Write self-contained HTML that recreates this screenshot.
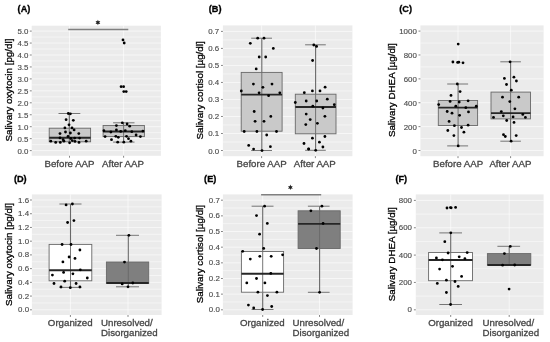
<!DOCTYPE html>
<html><head><meta charset="utf-8"><style>
html,body{margin:0;padding:0;background:#fff;}
svg{display:block;font-family:"Liberation Sans", sans-serif;will-change:transform;filter:blur(0.35px);}
</style></head><body>
<svg width="550" height="342" viewBox="0 0 550 342">
<rect width="550" height="342" fill="#fff"/>
<rect x="31.7" y="25.7" width="129.2" height="130.1" fill="#EBEBEB"/>
<line x1="31.7" x2="160.9" y1="144.62" y2="144.62" stroke="#fff" stroke-opacity="0.5" stroke-width="1"/>
<line x1="31.7" x2="160.9" y1="132.67" y2="132.67" stroke="#fff" stroke-opacity="0.5" stroke-width="1"/>
<line x1="31.7" x2="160.9" y1="120.72" y2="120.72" stroke="#fff" stroke-opacity="0.5" stroke-width="1"/>
<line x1="31.7" x2="160.9" y1="108.77" y2="108.77" stroke="#fff" stroke-opacity="0.5" stroke-width="1"/>
<line x1="31.7" x2="160.9" y1="96.82" y2="96.82" stroke="#fff" stroke-opacity="0.5" stroke-width="1"/>
<line x1="31.7" x2="160.9" y1="84.88" y2="84.88" stroke="#fff" stroke-opacity="0.5" stroke-width="1"/>
<line x1="31.7" x2="160.9" y1="72.92" y2="72.92" stroke="#fff" stroke-opacity="0.5" stroke-width="1"/>
<line x1="31.7" x2="160.9" y1="60.97" y2="60.97" stroke="#fff" stroke-opacity="0.5" stroke-width="1"/>
<line x1="31.7" x2="160.9" y1="49.02" y2="49.02" stroke="#fff" stroke-opacity="0.5" stroke-width="1"/>
<line x1="31.7" x2="160.9" y1="37.07" y2="37.07" stroke="#fff" stroke-opacity="0.5" stroke-width="1"/>
<line x1="31.7" x2="160.9" y1="150.6" y2="150.6" stroke="#fff" stroke-opacity="0.6" stroke-width="1"/>
<line x1="29.8" x2="31.7" y1="150.6" y2="150.6" stroke="#333" stroke-width="0.6"/>
<text x="28.4" y="153.6" font-size="7.9" fill="#4D4D4D" stroke="#4D4D4D" stroke-width="0.15" text-anchor="end">0.0</text>
<line x1="31.7" x2="160.9" y1="138.65" y2="138.65" stroke="#fff" stroke-opacity="0.6" stroke-width="1"/>
<line x1="29.8" x2="31.7" y1="138.65" y2="138.65" stroke="#333" stroke-width="0.6"/>
<text x="28.4" y="141.65" font-size="7.9" fill="#4D4D4D" stroke="#4D4D4D" stroke-width="0.15" text-anchor="end">0.5</text>
<line x1="31.7" x2="160.9" y1="126.7" y2="126.7" stroke="#fff" stroke-opacity="0.6" stroke-width="1"/>
<line x1="29.8" x2="31.7" y1="126.7" y2="126.7" stroke="#333" stroke-width="0.6"/>
<text x="28.4" y="129.7" font-size="7.9" fill="#4D4D4D" stroke="#4D4D4D" stroke-width="0.15" text-anchor="end">1.0</text>
<line x1="31.7" x2="160.9" y1="114.75" y2="114.75" stroke="#fff" stroke-opacity="0.6" stroke-width="1"/>
<line x1="29.8" x2="31.7" y1="114.75" y2="114.75" stroke="#333" stroke-width="0.6"/>
<text x="28.4" y="117.75" font-size="7.9" fill="#4D4D4D" stroke="#4D4D4D" stroke-width="0.15" text-anchor="end">1.5</text>
<line x1="31.7" x2="160.9" y1="102.8" y2="102.8" stroke="#fff" stroke-opacity="0.6" stroke-width="1"/>
<line x1="29.8" x2="31.7" y1="102.8" y2="102.8" stroke="#333" stroke-width="0.6"/>
<text x="28.4" y="105.8" font-size="7.9" fill="#4D4D4D" stroke="#4D4D4D" stroke-width="0.15" text-anchor="end">2.0</text>
<line x1="31.7" x2="160.9" y1="90.85" y2="90.85" stroke="#fff" stroke-opacity="0.6" stroke-width="1"/>
<line x1="29.8" x2="31.7" y1="90.85" y2="90.85" stroke="#333" stroke-width="0.6"/>
<text x="28.4" y="93.85" font-size="7.9" fill="#4D4D4D" stroke="#4D4D4D" stroke-width="0.15" text-anchor="end">2.5</text>
<line x1="31.7" x2="160.9" y1="78.9" y2="78.9" stroke="#fff" stroke-opacity="0.6" stroke-width="1"/>
<line x1="29.8" x2="31.7" y1="78.9" y2="78.9" stroke="#333" stroke-width="0.6"/>
<text x="28.4" y="81.9" font-size="7.9" fill="#4D4D4D" stroke="#4D4D4D" stroke-width="0.15" text-anchor="end">3.0</text>
<line x1="31.7" x2="160.9" y1="66.95" y2="66.95" stroke="#fff" stroke-opacity="0.6" stroke-width="1"/>
<line x1="29.8" x2="31.7" y1="66.95" y2="66.95" stroke="#333" stroke-width="0.6"/>
<text x="28.4" y="69.95" font-size="7.9" fill="#4D4D4D" stroke="#4D4D4D" stroke-width="0.15" text-anchor="end">3.5</text>
<line x1="31.7" x2="160.9" y1="55" y2="55" stroke="#fff" stroke-opacity="0.6" stroke-width="1"/>
<line x1="29.8" x2="31.7" y1="55" y2="55" stroke="#333" stroke-width="0.6"/>
<text x="28.4" y="58" font-size="7.9" fill="#4D4D4D" stroke="#4D4D4D" stroke-width="0.15" text-anchor="end">4.0</text>
<line x1="31.7" x2="160.9" y1="43.05" y2="43.05" stroke="#fff" stroke-opacity="0.6" stroke-width="1"/>
<line x1="29.8" x2="31.7" y1="43.05" y2="43.05" stroke="#333" stroke-width="0.6"/>
<text x="28.4" y="46.05" font-size="7.9" fill="#4D4D4D" stroke="#4D4D4D" stroke-width="0.15" text-anchor="end">4.5</text>
<line x1="31.7" x2="160.9" y1="31.1" y2="31.1" stroke="#fff" stroke-opacity="0.6" stroke-width="1"/>
<line x1="29.8" x2="31.7" y1="31.1" y2="31.1" stroke="#333" stroke-width="0.6"/>
<text x="28.4" y="34.1" font-size="7.9" fill="#4D4D4D" stroke="#4D4D4D" stroke-width="0.15" text-anchor="end">5.0</text>
<line x1="69.5" x2="69.5" y1="25.7" y2="155.8" stroke="#fff" stroke-opacity="0.6" stroke-width="1"/>
<line x1="69.5" x2="69.5" y1="155.8" y2="157.7" stroke="#333" stroke-width="0.6"/>
<line x1="123.6" x2="123.6" y1="25.7" y2="155.8" stroke="#fff" stroke-opacity="0.6" stroke-width="1"/>
<line x1="123.6" x2="123.6" y1="155.8" y2="157.7" stroke="#333" stroke-width="0.6"/>
<text transform="translate(11.9,90.1) rotate(-90)" font-size="9.8" fill="#000" stroke="#000" stroke-width="0.3" text-anchor="middle">Salivary oxytocin [pg/dl]</text>
<text x="17.6" y="12.2" font-size="9.2" font-weight="bold" fill="#000" stroke="#000" stroke-width="0.3">(A)</text>
<text x="69.5" y="167" font-size="9.7" fill="#454545" stroke="#454545" stroke-width="0.3" text-anchor="middle">Before AAP</text>
<text x="123" y="167" font-size="9.7" fill="#454545" stroke="#454545" stroke-width="0.3" text-anchor="middle">After AAP</text>
<rect x="222.9" y="25.4" width="129.5" height="130.8" fill="#EBEBEB"/>
<line x1="222.9" x2="352.4" y1="141.99" y2="141.99" stroke="#fff" stroke-opacity="0.5" stroke-width="1"/>
<line x1="222.9" x2="352.4" y1="124.98" y2="124.98" stroke="#fff" stroke-opacity="0.5" stroke-width="1"/>
<line x1="222.9" x2="352.4" y1="107.96" y2="107.96" stroke="#fff" stroke-opacity="0.5" stroke-width="1"/>
<line x1="222.9" x2="352.4" y1="90.95" y2="90.95" stroke="#fff" stroke-opacity="0.5" stroke-width="1"/>
<line x1="222.9" x2="352.4" y1="73.94" y2="73.94" stroke="#fff" stroke-opacity="0.5" stroke-width="1"/>
<line x1="222.9" x2="352.4" y1="56.92" y2="56.92" stroke="#fff" stroke-opacity="0.5" stroke-width="1"/>
<line x1="222.9" x2="352.4" y1="39.91" y2="39.91" stroke="#fff" stroke-opacity="0.5" stroke-width="1"/>
<line x1="222.9" x2="352.4" y1="150.5" y2="150.5" stroke="#fff" stroke-opacity="0.6" stroke-width="1"/>
<line x1="221" x2="222.9" y1="150.5" y2="150.5" stroke="#333" stroke-width="0.6"/>
<text x="219.2" y="153.5" font-size="7.9" fill="#4D4D4D" stroke="#4D4D4D" stroke-width="0.15" text-anchor="end">0.0</text>
<line x1="222.9" x2="352.4" y1="133.49" y2="133.49" stroke="#fff" stroke-opacity="0.6" stroke-width="1"/>
<line x1="221" x2="222.9" y1="133.49" y2="133.49" stroke="#333" stroke-width="0.6"/>
<text x="219.2" y="136.49" font-size="7.9" fill="#4D4D4D" stroke="#4D4D4D" stroke-width="0.15" text-anchor="end">0.1</text>
<line x1="222.9" x2="352.4" y1="116.47" y2="116.47" stroke="#fff" stroke-opacity="0.6" stroke-width="1"/>
<line x1="221" x2="222.9" y1="116.47" y2="116.47" stroke="#333" stroke-width="0.6"/>
<text x="219.2" y="119.47" font-size="7.9" fill="#4D4D4D" stroke="#4D4D4D" stroke-width="0.15" text-anchor="end">0.2</text>
<line x1="222.9" x2="352.4" y1="99.46" y2="99.46" stroke="#fff" stroke-opacity="0.6" stroke-width="1"/>
<line x1="221" x2="222.9" y1="99.46" y2="99.46" stroke="#333" stroke-width="0.6"/>
<text x="219.2" y="102.46" font-size="7.9" fill="#4D4D4D" stroke="#4D4D4D" stroke-width="0.15" text-anchor="end">0.3</text>
<line x1="222.9" x2="352.4" y1="82.44" y2="82.44" stroke="#fff" stroke-opacity="0.6" stroke-width="1"/>
<line x1="221" x2="222.9" y1="82.44" y2="82.44" stroke="#333" stroke-width="0.6"/>
<text x="219.2" y="85.44" font-size="7.9" fill="#4D4D4D" stroke="#4D4D4D" stroke-width="0.15" text-anchor="end">0.4</text>
<line x1="222.9" x2="352.4" y1="65.43" y2="65.43" stroke="#fff" stroke-opacity="0.6" stroke-width="1"/>
<line x1="221" x2="222.9" y1="65.43" y2="65.43" stroke="#333" stroke-width="0.6"/>
<text x="219.2" y="68.43" font-size="7.9" fill="#4D4D4D" stroke="#4D4D4D" stroke-width="0.15" text-anchor="end">0.5</text>
<line x1="222.9" x2="352.4" y1="48.41" y2="48.41" stroke="#fff" stroke-opacity="0.6" stroke-width="1"/>
<line x1="221" x2="222.9" y1="48.41" y2="48.41" stroke="#333" stroke-width="0.6"/>
<text x="219.2" y="51.41" font-size="7.9" fill="#4D4D4D" stroke="#4D4D4D" stroke-width="0.15" text-anchor="end">0.6</text>
<line x1="222.9" x2="352.4" y1="31.4" y2="31.4" stroke="#fff" stroke-opacity="0.6" stroke-width="1"/>
<line x1="221" x2="222.9" y1="31.4" y2="31.4" stroke="#333" stroke-width="0.6"/>
<text x="219.2" y="34.4" font-size="7.9" fill="#4D4D4D" stroke="#4D4D4D" stroke-width="0.15" text-anchor="end">0.7</text>
<line x1="261.6" x2="261.6" y1="25.4" y2="156.2" stroke="#fff" stroke-opacity="0.6" stroke-width="1"/>
<line x1="261.6" x2="261.6" y1="156.2" y2="158.1" stroke="#333" stroke-width="0.6"/>
<line x1="315.4" x2="315.4" y1="25.4" y2="156.2" stroke="#fff" stroke-opacity="0.6" stroke-width="1"/>
<line x1="315.4" x2="315.4" y1="156.2" y2="158.1" stroke="#333" stroke-width="0.6"/>
<text transform="translate(203.2,90.4) rotate(-90)" font-size="9.8" fill="#000" stroke="#000" stroke-width="0.3" text-anchor="middle">Salivary cortisol [µg/dl]</text>
<text x="208.7" y="12.2" font-size="9.2" font-weight="bold" fill="#000" stroke="#000" stroke-width="0.3">(B)</text>
<text x="261.6" y="167" font-size="9.7" fill="#454545" stroke="#454545" stroke-width="0.3" text-anchor="middle">Before AAP</text>
<text x="314.8" y="167" font-size="9.7" fill="#454545" stroke="#454545" stroke-width="0.3" text-anchor="middle">After AAP</text>
<rect x="420.4" y="25.4" width="123.2" height="130.8" fill="#EBEBEB"/>
<line x1="420.4" x2="543.6" y1="138.56" y2="138.56" stroke="#fff" stroke-opacity="0.5" stroke-width="1"/>
<line x1="420.4" x2="543.6" y1="114.68" y2="114.68" stroke="#fff" stroke-opacity="0.5" stroke-width="1"/>
<line x1="420.4" x2="543.6" y1="90.8" y2="90.8" stroke="#fff" stroke-opacity="0.5" stroke-width="1"/>
<line x1="420.4" x2="543.6" y1="66.92" y2="66.92" stroke="#fff" stroke-opacity="0.5" stroke-width="1"/>
<line x1="420.4" x2="543.6" y1="43.04" y2="43.04" stroke="#fff" stroke-opacity="0.5" stroke-width="1"/>
<line x1="420.4" x2="543.6" y1="150.5" y2="150.5" stroke="#fff" stroke-opacity="0.6" stroke-width="1"/>
<line x1="418.5" x2="420.4" y1="150.5" y2="150.5" stroke="#333" stroke-width="0.6"/>
<text x="416.8" y="153.5" font-size="7.9" fill="#4D4D4D" stroke="#4D4D4D" stroke-width="0.15" text-anchor="end">0</text>
<line x1="420.4" x2="543.6" y1="126.62" y2="126.62" stroke="#fff" stroke-opacity="0.6" stroke-width="1"/>
<line x1="418.5" x2="420.4" y1="126.62" y2="126.62" stroke="#333" stroke-width="0.6"/>
<text x="416.8" y="129.62" font-size="7.9" fill="#4D4D4D" stroke="#4D4D4D" stroke-width="0.15" text-anchor="end">200</text>
<line x1="420.4" x2="543.6" y1="102.74" y2="102.74" stroke="#fff" stroke-opacity="0.6" stroke-width="1"/>
<line x1="418.5" x2="420.4" y1="102.74" y2="102.74" stroke="#333" stroke-width="0.6"/>
<text x="416.8" y="105.74" font-size="7.9" fill="#4D4D4D" stroke="#4D4D4D" stroke-width="0.15" text-anchor="end">400</text>
<line x1="420.4" x2="543.6" y1="78.86" y2="78.86" stroke="#fff" stroke-opacity="0.6" stroke-width="1"/>
<line x1="418.5" x2="420.4" y1="78.86" y2="78.86" stroke="#333" stroke-width="0.6"/>
<text x="416.8" y="81.86" font-size="7.9" fill="#4D4D4D" stroke="#4D4D4D" stroke-width="0.15" text-anchor="end">600</text>
<line x1="420.4" x2="543.6" y1="54.98" y2="54.98" stroke="#fff" stroke-opacity="0.6" stroke-width="1"/>
<line x1="418.5" x2="420.4" y1="54.98" y2="54.98" stroke="#333" stroke-width="0.6"/>
<text x="416.8" y="57.98" font-size="7.9" fill="#4D4D4D" stroke="#4D4D4D" stroke-width="0.15" text-anchor="end">800</text>
<line x1="420.4" x2="543.6" y1="31.1" y2="31.1" stroke="#fff" stroke-opacity="0.6" stroke-width="1"/>
<line x1="418.5" x2="420.4" y1="31.1" y2="31.1" stroke="#333" stroke-width="0.6"/>
<text x="416.8" y="34.1" font-size="7.9" fill="#4D4D4D" stroke="#4D4D4D" stroke-width="0.15" text-anchor="end">1000</text>
<line x1="458" x2="458" y1="25.4" y2="156.2" stroke="#fff" stroke-opacity="0.6" stroke-width="1"/>
<line x1="458" x2="458" y1="156.2" y2="158.1" stroke="#333" stroke-width="0.6"/>
<line x1="510.6" x2="510.6" y1="25.4" y2="156.2" stroke="#fff" stroke-opacity="0.6" stroke-width="1"/>
<line x1="510.6" x2="510.6" y1="156.2" y2="158.1" stroke="#333" stroke-width="0.6"/>
<text transform="translate(394.6,90.2) rotate(-90)" font-size="9.8" fill="#000" stroke="#000" stroke-width="0.3" text-anchor="middle">Salivary DHEA [µg/dl]</text>
<text x="399.3" y="12.2" font-size="9.2" font-weight="bold" fill="#000" stroke="#000" stroke-width="0.3">(C)</text>
<text x="458.1" y="167" font-size="9.7" fill="#454545" stroke="#454545" stroke-width="0.3" text-anchor="middle">Before AAP</text>
<text x="510.4" y="167" font-size="9.7" fill="#454545" stroke="#454545" stroke-width="0.3" text-anchor="middle">After AAP</text>
<rect x="31.9" y="194.4" width="129.7" height="120.6" fill="#EBEBEB"/>
<line x1="31.9" x2="161.6" y1="302.94" y2="302.94" stroke="#fff" stroke-opacity="0.5" stroke-width="1"/>
<line x1="31.9" x2="161.6" y1="289.21" y2="289.21" stroke="#fff" stroke-opacity="0.5" stroke-width="1"/>
<line x1="31.9" x2="161.6" y1="275.49" y2="275.49" stroke="#fff" stroke-opacity="0.5" stroke-width="1"/>
<line x1="31.9" x2="161.6" y1="261.76" y2="261.76" stroke="#fff" stroke-opacity="0.5" stroke-width="1"/>
<line x1="31.9" x2="161.6" y1="248.04" y2="248.04" stroke="#fff" stroke-opacity="0.5" stroke-width="1"/>
<line x1="31.9" x2="161.6" y1="234.31" y2="234.31" stroke="#fff" stroke-opacity="0.5" stroke-width="1"/>
<line x1="31.9" x2="161.6" y1="220.59" y2="220.59" stroke="#fff" stroke-opacity="0.5" stroke-width="1"/>
<line x1="31.9" x2="161.6" y1="206.86" y2="206.86" stroke="#fff" stroke-opacity="0.5" stroke-width="1"/>
<line x1="31.9" x2="161.6" y1="309.8" y2="309.8" stroke="#fff" stroke-opacity="0.6" stroke-width="1"/>
<line x1="30" x2="31.9" y1="309.8" y2="309.8" stroke="#333" stroke-width="0.6"/>
<text x="29.1" y="312.3" font-size="7.9" fill="#4D4D4D" stroke="#4D4D4D" stroke-width="0.15" text-anchor="end">0.0</text>
<line x1="31.9" x2="161.6" y1="296.07" y2="296.07" stroke="#fff" stroke-opacity="0.6" stroke-width="1"/>
<line x1="30" x2="31.9" y1="296.07" y2="296.07" stroke="#333" stroke-width="0.6"/>
<text x="29.1" y="298.57" font-size="7.9" fill="#4D4D4D" stroke="#4D4D4D" stroke-width="0.15" text-anchor="end">0.2</text>
<line x1="31.9" x2="161.6" y1="282.35" y2="282.35" stroke="#fff" stroke-opacity="0.6" stroke-width="1"/>
<line x1="30" x2="31.9" y1="282.35" y2="282.35" stroke="#333" stroke-width="0.6"/>
<text x="29.1" y="284.85" font-size="7.9" fill="#4D4D4D" stroke="#4D4D4D" stroke-width="0.15" text-anchor="end">0.4</text>
<line x1="31.9" x2="161.6" y1="268.62" y2="268.62" stroke="#fff" stroke-opacity="0.6" stroke-width="1"/>
<line x1="30" x2="31.9" y1="268.62" y2="268.62" stroke="#333" stroke-width="0.6"/>
<text x="29.1" y="271.12" font-size="7.9" fill="#4D4D4D" stroke="#4D4D4D" stroke-width="0.15" text-anchor="end">0.6</text>
<line x1="31.9" x2="161.6" y1="254.9" y2="254.9" stroke="#fff" stroke-opacity="0.6" stroke-width="1"/>
<line x1="30" x2="31.9" y1="254.9" y2="254.9" stroke="#333" stroke-width="0.6"/>
<text x="29.1" y="257.4" font-size="7.9" fill="#4D4D4D" stroke="#4D4D4D" stroke-width="0.15" text-anchor="end">0.8</text>
<line x1="31.9" x2="161.6" y1="241.18" y2="241.18" stroke="#fff" stroke-opacity="0.6" stroke-width="1"/>
<line x1="30" x2="31.9" y1="241.18" y2="241.18" stroke="#333" stroke-width="0.6"/>
<text x="29.1" y="243.68" font-size="7.9" fill="#4D4D4D" stroke="#4D4D4D" stroke-width="0.15" text-anchor="end">1.0</text>
<line x1="31.9" x2="161.6" y1="227.45" y2="227.45" stroke="#fff" stroke-opacity="0.6" stroke-width="1"/>
<line x1="30" x2="31.9" y1="227.45" y2="227.45" stroke="#333" stroke-width="0.6"/>
<text x="29.1" y="229.95" font-size="7.9" fill="#4D4D4D" stroke="#4D4D4D" stroke-width="0.15" text-anchor="end">1.2</text>
<line x1="31.9" x2="161.6" y1="213.72" y2="213.72" stroke="#fff" stroke-opacity="0.6" stroke-width="1"/>
<line x1="30" x2="31.9" y1="213.72" y2="213.72" stroke="#333" stroke-width="0.6"/>
<text x="29.1" y="216.22" font-size="7.9" fill="#4D4D4D" stroke="#4D4D4D" stroke-width="0.15" text-anchor="end">1.4</text>
<line x1="31.9" x2="161.6" y1="200" y2="200" stroke="#fff" stroke-opacity="0.6" stroke-width="1"/>
<line x1="30" x2="31.9" y1="200" y2="200" stroke="#333" stroke-width="0.6"/>
<text x="29.1" y="202.5" font-size="7.9" fill="#4D4D4D" stroke="#4D4D4D" stroke-width="0.15" text-anchor="end">1.6</text>
<line x1="70.4" x2="70.4" y1="194.4" y2="315" stroke="#fff" stroke-opacity="0.6" stroke-width="1"/>
<line x1="70.4" x2="70.4" y1="315" y2="316.9" stroke="#333" stroke-width="0.6"/>
<line x1="128" x2="128" y1="194.4" y2="315" stroke="#fff" stroke-opacity="0.6" stroke-width="1"/>
<line x1="128" x2="128" y1="315" y2="316.9" stroke="#333" stroke-width="0.6"/>
<text transform="translate(11.9,254.6) rotate(-90)" font-size="9.8" fill="#000" stroke="#000" stroke-width="0.3" text-anchor="middle">Salivary oxytocin [pg/dl]</text>
<text x="13.9" y="182.4" font-size="9.2" font-weight="bold" fill="#000" stroke="#000" stroke-width="0.3">(D)</text>
<text x="70.2" y="326" font-size="9.7" fill="#454545" stroke="#454545" stroke-width="0.3" text-anchor="middle">Organized</text>
<text x="101" y="326" font-size="9.7" fill="#454545" stroke="#454545" stroke-width="0.3">Unresolved/</text>
<text x="101" y="336.1" font-size="9.7" fill="#454545" stroke="#454545" stroke-width="0.3">Disorganized</text>
<rect x="222.9" y="194.4" width="129.7" height="120.6" fill="#EBEBEB"/>
<line x1="222.9" x2="352.6" y1="301.97" y2="301.97" stroke="#fff" stroke-opacity="0.5" stroke-width="1"/>
<line x1="222.9" x2="352.6" y1="286.31" y2="286.31" stroke="#fff" stroke-opacity="0.5" stroke-width="1"/>
<line x1="222.9" x2="352.6" y1="270.66" y2="270.66" stroke="#fff" stroke-opacity="0.5" stroke-width="1"/>
<line x1="222.9" x2="352.6" y1="255" y2="255" stroke="#fff" stroke-opacity="0.5" stroke-width="1"/>
<line x1="222.9" x2="352.6" y1="239.34" y2="239.34" stroke="#fff" stroke-opacity="0.5" stroke-width="1"/>
<line x1="222.9" x2="352.6" y1="223.69" y2="223.69" stroke="#fff" stroke-opacity="0.5" stroke-width="1"/>
<line x1="222.9" x2="352.6" y1="208.03" y2="208.03" stroke="#fff" stroke-opacity="0.5" stroke-width="1"/>
<line x1="222.9" x2="352.6" y1="309.8" y2="309.8" stroke="#fff" stroke-opacity="0.6" stroke-width="1"/>
<line x1="221" x2="222.9" y1="309.8" y2="309.8" stroke="#333" stroke-width="0.6"/>
<text x="219.8" y="312.3" font-size="7.9" fill="#4D4D4D" stroke="#4D4D4D" stroke-width="0.15" text-anchor="end">0.0</text>
<line x1="222.9" x2="352.6" y1="294.14" y2="294.14" stroke="#fff" stroke-opacity="0.6" stroke-width="1"/>
<line x1="221" x2="222.9" y1="294.14" y2="294.14" stroke="#333" stroke-width="0.6"/>
<text x="219.8" y="296.64" font-size="7.9" fill="#4D4D4D" stroke="#4D4D4D" stroke-width="0.15" text-anchor="end">0.1</text>
<line x1="222.9" x2="352.6" y1="278.49" y2="278.49" stroke="#fff" stroke-opacity="0.6" stroke-width="1"/>
<line x1="221" x2="222.9" y1="278.49" y2="278.49" stroke="#333" stroke-width="0.6"/>
<text x="219.8" y="280.99" font-size="7.9" fill="#4D4D4D" stroke="#4D4D4D" stroke-width="0.15" text-anchor="end">0.2</text>
<line x1="222.9" x2="352.6" y1="262.83" y2="262.83" stroke="#fff" stroke-opacity="0.6" stroke-width="1"/>
<line x1="221" x2="222.9" y1="262.83" y2="262.83" stroke="#333" stroke-width="0.6"/>
<text x="219.8" y="265.33" font-size="7.9" fill="#4D4D4D" stroke="#4D4D4D" stroke-width="0.15" text-anchor="end">0.3</text>
<line x1="222.9" x2="352.6" y1="247.17" y2="247.17" stroke="#fff" stroke-opacity="0.6" stroke-width="1"/>
<line x1="221" x2="222.9" y1="247.17" y2="247.17" stroke="#333" stroke-width="0.6"/>
<text x="219.8" y="249.67" font-size="7.9" fill="#4D4D4D" stroke="#4D4D4D" stroke-width="0.15" text-anchor="end">0.4</text>
<line x1="222.9" x2="352.6" y1="231.51" y2="231.51" stroke="#fff" stroke-opacity="0.6" stroke-width="1"/>
<line x1="221" x2="222.9" y1="231.51" y2="231.51" stroke="#333" stroke-width="0.6"/>
<text x="219.8" y="234.01" font-size="7.9" fill="#4D4D4D" stroke="#4D4D4D" stroke-width="0.15" text-anchor="end">0.5</text>
<line x1="222.9" x2="352.6" y1="215.86" y2="215.86" stroke="#fff" stroke-opacity="0.6" stroke-width="1"/>
<line x1="221" x2="222.9" y1="215.86" y2="215.86" stroke="#333" stroke-width="0.6"/>
<text x="219.8" y="218.36" font-size="7.9" fill="#4D4D4D" stroke="#4D4D4D" stroke-width="0.15" text-anchor="end">0.6</text>
<line x1="222.9" x2="352.6" y1="200.2" y2="200.2" stroke="#fff" stroke-opacity="0.6" stroke-width="1"/>
<line x1="221" x2="222.9" y1="200.2" y2="200.2" stroke="#333" stroke-width="0.6"/>
<text x="219.8" y="202.7" font-size="7.9" fill="#4D4D4D" stroke="#4D4D4D" stroke-width="0.15" text-anchor="end">0.7</text>
<line x1="262.7" x2="262.7" y1="194.4" y2="315" stroke="#fff" stroke-opacity="0.6" stroke-width="1"/>
<line x1="262.7" x2="262.7" y1="315" y2="316.9" stroke="#333" stroke-width="0.6"/>
<line x1="319.5" x2="319.5" y1="194.4" y2="315" stroke="#fff" stroke-opacity="0.6" stroke-width="1"/>
<line x1="319.5" x2="319.5" y1="315" y2="316.9" stroke="#333" stroke-width="0.6"/>
<text transform="translate(203.2,254.1) rotate(-90)" font-size="9.8" fill="#000" stroke="#000" stroke-width="0.3" text-anchor="middle">Salivary cortisol [µg/dl]</text>
<text x="204.1" y="182.4" font-size="9.2" font-weight="bold" fill="#000" stroke="#000" stroke-width="0.3">(E)</text>
<text x="262.3" y="326" font-size="9.7" fill="#454545" stroke="#454545" stroke-width="0.3" text-anchor="middle">Organized</text>
<text x="292.5" y="326" font-size="9.7" fill="#454545" stroke="#454545" stroke-width="0.3">Unresolved/</text>
<text x="292.5" y="336.1" font-size="9.7" fill="#454545" stroke="#454545" stroke-width="0.3">Disorganized</text>
<rect x="415.8" y="194.4" width="127.8" height="120.6" fill="#EBEBEB"/>
<line x1="415.8" x2="543.6" y1="296.12" y2="296.12" stroke="#fff" stroke-opacity="0.5" stroke-width="1"/>
<line x1="415.8" x2="543.6" y1="268.78" y2="268.78" stroke="#fff" stroke-opacity="0.5" stroke-width="1"/>
<line x1="415.8" x2="543.6" y1="241.43" y2="241.43" stroke="#fff" stroke-opacity="0.5" stroke-width="1"/>
<line x1="415.8" x2="543.6" y1="214.08" y2="214.08" stroke="#fff" stroke-opacity="0.5" stroke-width="1"/>
<line x1="415.8" x2="543.6" y1="309.8" y2="309.8" stroke="#fff" stroke-opacity="0.6" stroke-width="1"/>
<line x1="413.9" x2="415.8" y1="309.8" y2="309.8" stroke="#333" stroke-width="0.6"/>
<text x="412" y="312.3" font-size="7.9" fill="#4D4D4D" stroke="#4D4D4D" stroke-width="0.15" text-anchor="end">0</text>
<line x1="415.8" x2="543.6" y1="282.45" y2="282.45" stroke="#fff" stroke-opacity="0.6" stroke-width="1"/>
<line x1="413.9" x2="415.8" y1="282.45" y2="282.45" stroke="#333" stroke-width="0.6"/>
<text x="412" y="284.95" font-size="7.9" fill="#4D4D4D" stroke="#4D4D4D" stroke-width="0.15" text-anchor="end">200</text>
<line x1="415.8" x2="543.6" y1="255.1" y2="255.1" stroke="#fff" stroke-opacity="0.6" stroke-width="1"/>
<line x1="413.9" x2="415.8" y1="255.1" y2="255.1" stroke="#333" stroke-width="0.6"/>
<text x="412" y="257.6" font-size="7.9" fill="#4D4D4D" stroke="#4D4D4D" stroke-width="0.15" text-anchor="end">400</text>
<line x1="415.8" x2="543.6" y1="227.75" y2="227.75" stroke="#fff" stroke-opacity="0.6" stroke-width="1"/>
<line x1="413.9" x2="415.8" y1="227.75" y2="227.75" stroke="#333" stroke-width="0.6"/>
<text x="412" y="230.25" font-size="7.9" fill="#4D4D4D" stroke="#4D4D4D" stroke-width="0.15" text-anchor="end">600</text>
<line x1="415.8" x2="543.6" y1="200.4" y2="200.4" stroke="#fff" stroke-opacity="0.6" stroke-width="1"/>
<line x1="413.9" x2="415.8" y1="200.4" y2="200.4" stroke="#333" stroke-width="0.6"/>
<text x="412" y="202.9" font-size="7.9" fill="#4D4D4D" stroke="#4D4D4D" stroke-width="0.15" text-anchor="end">800</text>
<line x1="450.7" x2="450.7" y1="194.4" y2="315" stroke="#fff" stroke-opacity="0.6" stroke-width="1"/>
<line x1="450.7" x2="450.7" y1="315" y2="316.9" stroke="#333" stroke-width="0.6"/>
<line x1="509.2" x2="509.2" y1="194.4" y2="315" stroke="#fff" stroke-opacity="0.6" stroke-width="1"/>
<line x1="509.2" x2="509.2" y1="315" y2="316.9" stroke="#333" stroke-width="0.6"/>
<text transform="translate(394.6,254.3) rotate(-90)" font-size="9.8" fill="#000" stroke="#000" stroke-width="0.3" text-anchor="middle">Salivary DHEA [µg/dl]</text>
<text x="395.4" y="182.4" font-size="9.2" font-weight="bold" fill="#000" stroke="#000" stroke-width="0.3">(F)</text>
<text x="450.5" y="326" font-size="9.7" fill="#454545" stroke="#454545" stroke-width="0.3" text-anchor="middle">Organized</text>
<text x="482.5" y="326" font-size="9.7" fill="#454545" stroke="#454545" stroke-width="0.3">Unresolved/</text>
<text x="482.5" y="336.1" font-size="9.7" fill="#454545" stroke="#454545" stroke-width="0.3">Disorganized</text>
<line x1="69.3" x2="69.3" y1="113.5" y2="128.2" stroke="#686868" stroke-width="1.1"/>
<line x1="69.3" x2="69.3" y1="141.8" y2="141.8" stroke="#686868" stroke-width="1.1"/>
<rect x="49.2" y="128.2" width="41.4" height="13.6" fill="#C9C9C9" stroke="#686868" stroke-width="0.9"/>
<line x1="69.3" x2="69.3" y1="128.2" y2="141.8" stroke="#686868" stroke-width="0.9"/>
<line x1="49.2" x2="90.6" y1="137.7" y2="137.7" stroke="#262626" stroke-width="1.9"/>
<line x1="58.5" x2="80.3" y1="113.5" y2="113.5" stroke="#686868" stroke-width="0.9"/>
<line x1="123.6" x2="123.6" y1="122.8" y2="125.5" stroke="#686868" stroke-width="1.1"/>
<line x1="123.6" x2="123.6" y1="136.6" y2="142.1" stroke="#686868" stroke-width="1.1"/>
<rect x="103.1" y="125.5" width="41.3" height="11.1" fill="#C9C9C9" stroke="#686868" stroke-width="0.9"/>
<line x1="123.6" x2="123.6" y1="125.5" y2="136.6" stroke="#686868" stroke-width="0.9"/>
<line x1="103.1" x2="144.4" y1="131.5" y2="131.5" stroke="#262626" stroke-width="1.9"/>
<line x1="113.1" x2="134.5" y1="122.8" y2="122.8" stroke="#686868" stroke-width="0.9"/>
<line x1="113.1" x2="134.5" y1="142.1" y2="142.1" stroke="#686868" stroke-width="0.9"/>
<line x1="261.8" x2="261.8" y1="38.2" y2="72.4" stroke="#686868" stroke-width="1.1"/>
<line x1="261.8" x2="261.8" y1="131.2" y2="150.5" stroke="#686868" stroke-width="1.1"/>
<rect x="241.2" y="72.4" width="40.9" height="58.8" fill="#C9C9C9" stroke="#686868" stroke-width="0.9"/>
<line x1="261.8" x2="261.8" y1="72.4" y2="131.2" stroke="#686868" stroke-width="0.9"/>
<line x1="241.2" x2="282.1" y1="94.6" y2="94.6" stroke="#262626" stroke-width="1.9"/>
<line x1="251.2" x2="272" y1="38.2" y2="38.2" stroke="#686868" stroke-width="0.9"/>
<line x1="251.2" x2="272" y1="150.5" y2="150.5" stroke="#686868" stroke-width="0.9"/>
<line x1="315.6" x2="315.6" y1="44.8" y2="94.2" stroke="#686868" stroke-width="1.1"/>
<line x1="315.6" x2="315.6" y1="133.8" y2="150.3" stroke="#686868" stroke-width="1.1"/>
<rect x="295.3" y="94.2" width="40.7" height="39.6" fill="#C9C9C9" stroke="#686868" stroke-width="0.9"/>
<line x1="315.6" x2="315.6" y1="94.2" y2="133.8" stroke="#686868" stroke-width="0.9"/>
<line x1="295.3" x2="336" y1="107" y2="107" stroke="#262626" stroke-width="1.9"/>
<line x1="305.1" x2="325.8" y1="44.8" y2="44.8" stroke="#686868" stroke-width="0.9"/>
<line x1="305.1" x2="325.8" y1="150.3" y2="150.3" stroke="#686868" stroke-width="0.9"/>
<line x1="458.1" x2="458.1" y1="84" y2="100.5" stroke="#686868" stroke-width="1.1"/>
<line x1="458.1" x2="458.1" y1="125.5" y2="145.9" stroke="#686868" stroke-width="1.1"/>
<rect x="438.3" y="100.5" width="39.3" height="25" fill="#C9C9C9" stroke="#686868" stroke-width="0.9"/>
<line x1="458.1" x2="458.1" y1="100.5" y2="125.5" stroke="#686868" stroke-width="0.9"/>
<line x1="438.3" x2="477.6" y1="107.6" y2="107.6" stroke="#262626" stroke-width="1.9"/>
<line x1="447.2" x2="468.1" y1="84" y2="84" stroke="#686868" stroke-width="0.9"/>
<line x1="447.2" x2="468.1" y1="145.9" y2="145.9" stroke="#686868" stroke-width="0.9"/>
<line x1="510.6" x2="510.6" y1="61.8" y2="92.1" stroke="#686868" stroke-width="1.1"/>
<line x1="510.6" x2="510.6" y1="118.9" y2="141.2" stroke="#686868" stroke-width="1.1"/>
<rect x="491" y="92.1" width="39.5" height="26.8" fill="#C9C9C9" stroke="#686868" stroke-width="0.9"/>
<line x1="510.6" x2="510.6" y1="92.1" y2="118.9" stroke="#686868" stroke-width="0.9"/>
<line x1="491" x2="530.5" y1="113.1" y2="113.1" stroke="#262626" stroke-width="1.9"/>
<line x1="500.3" x2="520.9" y1="61.8" y2="61.8" stroke="#686868" stroke-width="0.9"/>
<line x1="500.3" x2="520.9" y1="141.2" y2="141.2" stroke="#686868" stroke-width="0.9"/>
<line x1="70.5" x2="70.5" y1="204" y2="244.4" stroke="#686868" stroke-width="1.1"/>
<line x1="70.5" x2="70.5" y1="280.8" y2="287.4" stroke="#686868" stroke-width="1.1"/>
<rect x="49.1" y="244.4" width="42.7" height="36.4" fill="#FFFFFF" stroke="#686868" stroke-width="0.9"/>
<line x1="70.5" x2="70.5" y1="244.4" y2="280.8" stroke="#686868" stroke-width="0.9"/>
<line x1="49.1" x2="91.8" y1="270.2" y2="270.2" stroke="#262626" stroke-width="1.9"/>
<line x1="59.4" x2="81.5" y1="204" y2="204" stroke="#686868" stroke-width="0.9"/>
<line x1="59.4" x2="81.5" y1="287.4" y2="287.4" stroke="#686868" stroke-width="0.9"/>
<line x1="128.3" x2="128.3" y1="235.3" y2="262" stroke="#686868" stroke-width="1.1"/>
<line x1="128.3" x2="128.3" y1="283.3" y2="286.8" stroke="#686868" stroke-width="1.1"/>
<rect x="106.4" y="262" width="42.3" height="21.3" fill="#7F7F7F" stroke="#686868" stroke-width="0.9"/>
<line x1="128.3" x2="128.3" y1="262" y2="283.3" stroke="#686868" stroke-width="0.9"/>
<line x1="106.4" x2="148.7" y1="283" y2="283" stroke="#262626" stroke-width="1.9"/>
<line x1="116" x2="139" y1="235.3" y2="235.3" stroke="#686868" stroke-width="0.9"/>
<line x1="116" x2="139" y1="286.8" y2="286.8" stroke="#686868" stroke-width="0.9"/>
<line x1="262.7" x2="262.7" y1="206.2" y2="251.5" stroke="#686868" stroke-width="1.1"/>
<line x1="262.7" x2="262.7" y1="292.2" y2="309.5" stroke="#686868" stroke-width="1.1"/>
<rect x="241.4" y="251.5" width="42.2" height="40.7" fill="#FFFFFF" stroke="#686868" stroke-width="0.9"/>
<line x1="262.7" x2="262.7" y1="251.5" y2="292.2" stroke="#686868" stroke-width="0.9"/>
<line x1="241.4" x2="283.6" y1="273.7" y2="273.7" stroke="#262626" stroke-width="1.9"/>
<line x1="251.6" x2="273.5" y1="206.2" y2="206.2" stroke="#686868" stroke-width="0.9"/>
<line x1="251.6" x2="273.5" y1="309.5" y2="309.5" stroke="#686868" stroke-width="0.9"/>
<line x1="319.6" x2="319.6" y1="206.2" y2="210.8" stroke="#686868" stroke-width="1.1"/>
<line x1="319.6" x2="319.6" y1="248.5" y2="292.3" stroke="#686868" stroke-width="1.1"/>
<rect x="298.1" y="210.8" width="42.1" height="37.7" fill="#7F7F7F" stroke="#686868" stroke-width="0.9"/>
<line x1="319.6" x2="319.6" y1="210.8" y2="248.5" stroke="#686868" stroke-width="0.9"/>
<line x1="298.1" x2="340.2" y1="223.9" y2="223.9" stroke="#262626" stroke-width="1.9"/>
<line x1="307.9" x2="329.6" y1="206.2" y2="206.2" stroke="#686868" stroke-width="0.9"/>
<line x1="307.9" x2="329.6" y1="292.3" y2="292.3" stroke="#686868" stroke-width="0.9"/>
<line x1="450.7" x2="450.7" y1="232.9" y2="252.5" stroke="#686868" stroke-width="1.1"/>
<line x1="450.7" x2="450.7" y1="280.7" y2="304.5" stroke="#686868" stroke-width="1.1"/>
<rect x="428.6" y="252.5" width="43.9" height="28.2" fill="#FFFFFF" stroke="#686868" stroke-width="0.9"/>
<line x1="450.7" x2="450.7" y1="252.5" y2="280.7" stroke="#686868" stroke-width="0.9"/>
<line x1="428.6" x2="472.5" y1="260" y2="260" stroke="#262626" stroke-width="1.9"/>
<line x1="439.3" x2="462" y1="232.9" y2="232.9" stroke="#686868" stroke-width="0.9"/>
<line x1="439.3" x2="462" y1="304.5" y2="304.5" stroke="#686868" stroke-width="0.9"/>
<line x1="509.2" x2="509.2" y1="246.3" y2="253.6" stroke="#686868" stroke-width="1.1"/>
<line x1="509.2" x2="509.2" y1="265" y2="265" stroke="#686868" stroke-width="1.1"/>
<rect x="487.4" y="253.6" width="43.4" height="11.4" fill="#7F7F7F" stroke="#686868" stroke-width="0.9"/>
<line x1="509.2" x2="509.2" y1="253.6" y2="265" stroke="#686868" stroke-width="0.9"/>
<line x1="487.4" x2="530.8" y1="265" y2="265" stroke="#262626" stroke-width="1.9"/>
<line x1="497.4" x2="520.1" y1="246.3" y2="246.3" stroke="#686868" stroke-width="0.9"/>
<line x1="68.2" x2="128.3" y1="29.6" y2="29.6" stroke="#808080" stroke-width="1.5"/>
<polygon points="97.9,19.75 98.58,21.33 100.28,21.12 99.25,22.5 100.28,23.88 98.58,23.67 97.9,25.25 97.23,23.67 95.52,23.88 96.55,22.5 95.52,21.12 97.23,21.33" fill="#222"/>
<line x1="261.1" x2="321.2" y1="194.8" y2="194.8" stroke="#808080" stroke-width="1.5"/>
<polygon points="290.4,184.55 291.07,186.13 292.78,185.93 291.75,187.3 292.78,188.68 291.07,188.47 290.4,190.05 289.72,188.47 288.02,188.68 289.05,187.3 288.02,185.93 289.72,186.13" fill="#222"/>
<circle cx="68.3" cy="113.5" r="1.4" fill="#000"/>
<circle cx="70.4" cy="113.8" r="1.4" fill="#000"/>
<circle cx="66.1" cy="119.7" r="1.4" fill="#000"/>
<circle cx="73.3" cy="120.3" r="1.4" fill="#000"/>
<circle cx="69" cy="124.8" r="1.4" fill="#000"/>
<circle cx="64.9" cy="127.9" r="1.4" fill="#000"/>
<circle cx="72" cy="127.9" r="1.4" fill="#000"/>
<circle cx="74.1" cy="129.9" r="1.4" fill="#000"/>
<circle cx="65.5" cy="132" r="1.4" fill="#000"/>
<circle cx="70.4" cy="133" r="1.4" fill="#000"/>
<circle cx="60" cy="133.6" r="1.4" fill="#000"/>
<circle cx="78.8" cy="133.6" r="1.4" fill="#000"/>
<circle cx="68" cy="136.5" r="1.4" fill="#000"/>
<circle cx="60" cy="137.9" r="1.4" fill="#000"/>
<circle cx="79.6" cy="138.1" r="1.4" fill="#000"/>
<circle cx="63.1" cy="139.7" r="1.4" fill="#000"/>
<circle cx="74.7" cy="138.1" r="1.4" fill="#000"/>
<circle cx="50.8" cy="141.2" r="1.4" fill="#000"/>
<circle cx="55.7" cy="142.4" r="1.4" fill="#000"/>
<circle cx="60.3" cy="142.4" r="1.4" fill="#000"/>
<circle cx="63.9" cy="141.2" r="1.4" fill="#000"/>
<circle cx="69.6" cy="142.8" r="1.4" fill="#000"/>
<circle cx="72.3" cy="140.6" r="1.4" fill="#000"/>
<circle cx="75" cy="141.4" r="1.4" fill="#000"/>
<circle cx="79" cy="142.4" r="1.4" fill="#000"/>
<circle cx="86.2" cy="141.2" r="1.4" fill="#000"/>
<circle cx="70.8" cy="138.5" r="1.4" fill="#000"/>
<circle cx="123" cy="39.9" r="1.4" fill="#000"/>
<circle cx="124.2" cy="43" r="1.4" fill="#000"/>
<circle cx="121.1" cy="86.7" r="1.4" fill="#000"/>
<circle cx="123.6" cy="86.7" r="1.4" fill="#000"/>
<circle cx="123.8" cy="91.6" r="1.4" fill="#000"/>
<circle cx="126.2" cy="91.6" r="1.4" fill="#000"/>
<circle cx="122.3" cy="122.8" r="1.4" fill="#000"/>
<circle cx="127.1" cy="124" r="1.4" fill="#000"/>
<circle cx="116.4" cy="125.6" r="1.4" fill="#000"/>
<circle cx="129.7" cy="126.2" r="1.4" fill="#000"/>
<circle cx="116.4" cy="129.9" r="1.4" fill="#000"/>
<circle cx="103.9" cy="130.7" r="1.4" fill="#000"/>
<circle cx="110.9" cy="132" r="1.4" fill="#000"/>
<circle cx="120.7" cy="131.4" r="1.4" fill="#000"/>
<circle cx="125.3" cy="130.7" r="1.4" fill="#000"/>
<circle cx="131.8" cy="131.7" r="1.4" fill="#000"/>
<circle cx="142.9" cy="131.1" r="1.4" fill="#000"/>
<circle cx="136.1" cy="135" r="1.4" fill="#000"/>
<circle cx="105.1" cy="136.6" r="1.4" fill="#000"/>
<circle cx="115.8" cy="136.3" r="1.4" fill="#000"/>
<circle cx="118.3" cy="137.3" r="1.4" fill="#000"/>
<circle cx="126.5" cy="136.3" r="1.4" fill="#000"/>
<circle cx="128.5" cy="138.7" r="1.4" fill="#000"/>
<circle cx="140.4" cy="136.6" r="1.4" fill="#000"/>
<circle cx="111.5" cy="139.7" r="1.4" fill="#000"/>
<circle cx="117.7" cy="142.2" r="1.4" fill="#000"/>
<circle cx="123.8" cy="142.2" r="1.4" fill="#000"/>
<circle cx="130.9" cy="141.2" r="1.4" fill="#000"/>
<circle cx="257.7" cy="38.2" r="1.4" fill="#000"/>
<circle cx="264" cy="38.2" r="1.4" fill="#000"/>
<circle cx="250.3" cy="43.3" r="1.4" fill="#000"/>
<circle cx="273.3" cy="48.4" r="1.4" fill="#000"/>
<circle cx="259.2" cy="57" r="1.4" fill="#000"/>
<circle cx="265.7" cy="57" r="1.4" fill="#000"/>
<circle cx="256.2" cy="68.9" r="1.4" fill="#000"/>
<circle cx="253.4" cy="84.1" r="1.4" fill="#000"/>
<circle cx="272" cy="84.1" r="1.4" fill="#000"/>
<circle cx="262.9" cy="87.3" r="1.4" fill="#000"/>
<circle cx="241.3" cy="91" r="1.4" fill="#000"/>
<circle cx="259.1" cy="92.8" r="1.4" fill="#000"/>
<circle cx="279.8" cy="92.8" r="1.4" fill="#000"/>
<circle cx="268.6" cy="95.7" r="1.4" fill="#000"/>
<circle cx="254.2" cy="111.5" r="1.4" fill="#000"/>
<circle cx="270.8" cy="116.4" r="1.4" fill="#000"/>
<circle cx="255.1" cy="121.3" r="1.4" fill="#000"/>
<circle cx="264" cy="121.3" r="1.4" fill="#000"/>
<circle cx="244.2" cy="131.5" r="1.4" fill="#000"/>
<circle cx="256.9" cy="131.5" r="1.4" fill="#000"/>
<circle cx="276.5" cy="131.5" r="1.4" fill="#000"/>
<circle cx="266.7" cy="135" r="1.4" fill="#000"/>
<circle cx="248.7" cy="145.4" r="1.4" fill="#000"/>
<circle cx="270.4" cy="146.7" r="1.4" fill="#000"/>
<circle cx="253.6" cy="149.1" r="1.4" fill="#000"/>
<circle cx="262" cy="150.6" r="1.4" fill="#000"/>
<circle cx="325.1" cy="87.2" r="1.4" fill="#000"/>
<circle cx="304.3" cy="92.7" r="1.4" fill="#000"/>
<circle cx="312.4" cy="90.9" r="1.4" fill="#000"/>
<circle cx="320" cy="90.9" r="1.4" fill="#000"/>
<circle cx="295.3" cy="102.5" r="1.4" fill="#000"/>
<circle cx="306.2" cy="101" r="1.4" fill="#000"/>
<circle cx="316.7" cy="101" r="1.4" fill="#000"/>
<circle cx="327.3" cy="99.2" r="1.4" fill="#000"/>
<circle cx="334.3" cy="104.7" r="1.4" fill="#000"/>
<circle cx="312.8" cy="106.2" r="1.4" fill="#000"/>
<circle cx="322.9" cy="108" r="1.4" fill="#000"/>
<circle cx="306.2" cy="114.1" r="1.4" fill="#000"/>
<circle cx="324.9" cy="116.3" r="1.4" fill="#000"/>
<circle cx="310.2" cy="119.6" r="1.4" fill="#000"/>
<circle cx="305.8" cy="124.6" r="1.4" fill="#000"/>
<circle cx="317.4" cy="123.3" r="1.4" fill="#000"/>
<circle cx="312.4" cy="138.2" r="1.4" fill="#000"/>
<circle cx="324.9" cy="136.5" r="1.4" fill="#000"/>
<circle cx="304" cy="143.5" r="1.4" fill="#000"/>
<circle cx="319.4" cy="142.2" r="1.4" fill="#000"/>
<circle cx="308.6" cy="148.9" r="1.4" fill="#000"/>
<circle cx="322.9" cy="147" r="1.4" fill="#000"/>
<circle cx="315.7" cy="150.3" r="1.4" fill="#000"/>
<circle cx="308.7" cy="149.1" r="1.4" fill="#000"/>
<circle cx="313.8" cy="45" r="1.4" fill="#000"/>
<circle cx="316.6" cy="46.4" r="1.4" fill="#000"/>
<circle cx="312.6" cy="60.5" r="1.4" fill="#000"/>
<circle cx="458.2" cy="44.1" r="1.4" fill="#000"/>
<circle cx="452.9" cy="62" r="1.4" fill="#000"/>
<circle cx="457.6" cy="62.4" r="1.4" fill="#000"/>
<circle cx="458.8" cy="62.2" r="1.4" fill="#000"/>
<circle cx="463" cy="62.8" r="1.4" fill="#000"/>
<circle cx="457.3" cy="84" r="1.4" fill="#000"/>
<circle cx="460.1" cy="91.6" r="1.4" fill="#000"/>
<circle cx="451" cy="95.4" r="1.4" fill="#000"/>
<circle cx="450.1" cy="101.4" r="1.4" fill="#000"/>
<circle cx="459.2" cy="102" r="1.4" fill="#000"/>
<circle cx="468.1" cy="100.8" r="1.4" fill="#000"/>
<circle cx="438.7" cy="104.6" r="1.4" fill="#000"/>
<circle cx="455.8" cy="106.2" r="1.4" fill="#000"/>
<circle cx="465.8" cy="107.7" r="1.4" fill="#000"/>
<circle cx="476.3" cy="106.2" r="1.4" fill="#000"/>
<circle cx="447.2" cy="111.5" r="1.4" fill="#000"/>
<circle cx="452" cy="113.2" r="1.4" fill="#000"/>
<circle cx="468.5" cy="111.9" r="1.4" fill="#000"/>
<circle cx="459.6" cy="115.3" r="1.4" fill="#000"/>
<circle cx="449.1" cy="121.4" r="1.4" fill="#000"/>
<circle cx="454.4" cy="125.7" r="1.4" fill="#000"/>
<circle cx="468.1" cy="125.2" r="1.4" fill="#000"/>
<circle cx="461.5" cy="127.5" r="1.4" fill="#000"/>
<circle cx="447.8" cy="130.5" r="1.4" fill="#000"/>
<circle cx="463.9" cy="132.2" r="1.4" fill="#000"/>
<circle cx="453.9" cy="135.6" r="1.4" fill="#000"/>
<circle cx="458.2" cy="145.9" r="1.4" fill="#000"/>
<circle cx="510.1" cy="61.8" r="1.4" fill="#000"/>
<circle cx="504.4" cy="78.4" r="1.4" fill="#000"/>
<circle cx="513.9" cy="77.2" r="1.4" fill="#000"/>
<circle cx="516.4" cy="81" r="1.4" fill="#000"/>
<circle cx="506.5" cy="84.5" r="1.4" fill="#000"/>
<circle cx="511.3" cy="90.2" r="1.4" fill="#000"/>
<circle cx="502.5" cy="97.2" r="1.4" fill="#000"/>
<circle cx="518.7" cy="97.2" r="1.4" fill="#000"/>
<circle cx="509.8" cy="101.6" r="1.4" fill="#000"/>
<circle cx="514.9" cy="108.8" r="1.4" fill="#000"/>
<circle cx="501.3" cy="111.6" r="1.4" fill="#000"/>
<circle cx="493.5" cy="117.4" r="1.4" fill="#000"/>
<circle cx="503.3" cy="115.8" r="1.4" fill="#000"/>
<circle cx="513.1" cy="116.9" r="1.4" fill="#000"/>
<circle cx="522.8" cy="114.4" r="1.4" fill="#000"/>
<circle cx="525.4" cy="117.4" r="1.4" fill="#000"/>
<circle cx="506.7" cy="120.5" r="1.4" fill="#000"/>
<circle cx="514" cy="122.4" r="1.4" fill="#000"/>
<circle cx="503.5" cy="134.7" r="1.4" fill="#000"/>
<circle cx="505.3" cy="136.5" r="1.4" fill="#000"/>
<circle cx="516.2" cy="135.6" r="1.4" fill="#000"/>
<circle cx="511.1" cy="141.2" r="1.4" fill="#000"/>
<circle cx="66.1" cy="204.9" r="1.4" fill="#000"/>
<circle cx="72.4" cy="204" r="1.4" fill="#000"/>
<circle cx="67.6" cy="222.5" r="1.4" fill="#000"/>
<circle cx="73.9" cy="220.6" r="1.4" fill="#000"/>
<circle cx="62.1" cy="244.5" r="1.4" fill="#000"/>
<circle cx="71" cy="244.5" r="1.4" fill="#000"/>
<circle cx="79.9" cy="250" r="1.4" fill="#000"/>
<circle cx="69.1" cy="257" r="1.4" fill="#000"/>
<circle cx="75" cy="258.4" r="1.4" fill="#000"/>
<circle cx="62.9" cy="261.9" r="1.4" fill="#000"/>
<circle cx="80.3" cy="269.8" r="1.4" fill="#000"/>
<circle cx="63.6" cy="272.4" r="1.4" fill="#000"/>
<circle cx="72.9" cy="273.8" r="1.4" fill="#000"/>
<circle cx="52.4" cy="275.1" r="1.4" fill="#000"/>
<circle cx="87.3" cy="278" r="1.4" fill="#000"/>
<circle cx="64.7" cy="281.2" r="1.4" fill="#000"/>
<circle cx="54" cy="283.5" r="1.4" fill="#000"/>
<circle cx="76.1" cy="283.5" r="1.4" fill="#000"/>
<circle cx="61" cy="287" r="1.4" fill="#000"/>
<circle cx="70.3" cy="287.7" r="1.4" fill="#000"/>
<circle cx="79.9" cy="287" r="1.4" fill="#000"/>
<circle cx="128.9" cy="235.3" r="1.4" fill="#000"/>
<circle cx="124.5" cy="262.1" r="1.4" fill="#000"/>
<circle cx="122.2" cy="283.9" r="1.4" fill="#000"/>
<circle cx="132.8" cy="283" r="1.4" fill="#000"/>
<circle cx="128" cy="286.8" r="1.4" fill="#000"/>
<circle cx="264.6" cy="206.2" r="1.4" fill="#000"/>
<circle cx="256.5" cy="215.6" r="1.4" fill="#000"/>
<circle cx="267.3" cy="223.4" r="1.4" fill="#000"/>
<circle cx="259.6" cy="234.2" r="1.4" fill="#000"/>
<circle cx="263.7" cy="248.4" r="1.4" fill="#000"/>
<circle cx="242.7" cy="251.3" r="1.4" fill="#000"/>
<circle cx="250.3" cy="259.1" r="1.4" fill="#000"/>
<circle cx="259.8" cy="256.3" r="1.4" fill="#000"/>
<circle cx="271.2" cy="256.3" r="1.4" fill="#000"/>
<circle cx="282.6" cy="254.8" r="1.4" fill="#000"/>
<circle cx="270.8" cy="273.4" r="1.4" fill="#000"/>
<circle cx="256.5" cy="278.5" r="1.4" fill="#000"/>
<circle cx="246.8" cy="282.9" r="1.4" fill="#000"/>
<circle cx="264.9" cy="282.9" r="1.4" fill="#000"/>
<circle cx="257.9" cy="292.2" r="1.4" fill="#000"/>
<circle cx="276.9" cy="292.2" r="1.4" fill="#000"/>
<circle cx="267.4" cy="295.6" r="1.4" fill="#000"/>
<circle cx="248.4" cy="305.1" r="1.4" fill="#000"/>
<circle cx="253.7" cy="308" r="1.4" fill="#000"/>
<circle cx="271.7" cy="306.5" r="1.4" fill="#000"/>
<circle cx="262.6" cy="309.5" r="1.4" fill="#000"/>
<circle cx="321.9" cy="206.2" r="1.4" fill="#000"/>
<circle cx="310.9" cy="210.8" r="1.4" fill="#000"/>
<circle cx="323.1" cy="223.5" r="1.4" fill="#000"/>
<circle cx="316.5" cy="248.5" r="1.4" fill="#000"/>
<circle cx="319.6" cy="292.3" r="1.4" fill="#000"/>
<circle cx="447" cy="208" r="1.4" fill="#000"/>
<circle cx="450.4" cy="207.6" r="1.4" fill="#000"/>
<circle cx="451.2" cy="207.8" r="1.4" fill="#000"/>
<circle cx="455.6" cy="207.4" r="1.4" fill="#000"/>
<circle cx="450.8" cy="232.8" r="1.4" fill="#000"/>
<circle cx="444.8" cy="241.7" r="1.4" fill="#000"/>
<circle cx="448.1" cy="253" r="1.4" fill="#000"/>
<circle cx="467.2" cy="252.6" r="1.4" fill="#000"/>
<circle cx="436.4" cy="257.9" r="1.4" fill="#000"/>
<circle cx="442.4" cy="259.8" r="1.4" fill="#000"/>
<circle cx="459.2" cy="256.8" r="1.4" fill="#000"/>
<circle cx="464.9" cy="258.7" r="1.4" fill="#000"/>
<circle cx="452.5" cy="266.3" r="1.4" fill="#000"/>
<circle cx="439.6" cy="269.1" r="1.4" fill="#000"/>
<circle cx="461.6" cy="276.4" r="1.4" fill="#000"/>
<circle cx="446.4" cy="280.2" r="1.4" fill="#000"/>
<circle cx="455" cy="281.5" r="1.4" fill="#000"/>
<circle cx="437.3" cy="283.4" r="1.4" fill="#000"/>
<circle cx="458.2" cy="286.4" r="1.4" fill="#000"/>
<circle cx="446.4" cy="292.5" r="1.4" fill="#000"/>
<circle cx="450.6" cy="304.5" r="1.4" fill="#000"/>
<circle cx="510.3" cy="246.4" r="1.4" fill="#000"/>
<circle cx="504.4" cy="253.6" r="1.4" fill="#000"/>
<circle cx="502.6" cy="265.2" r="1.4" fill="#000"/>
<circle cx="514.7" cy="265" r="1.4" fill="#000"/>
<circle cx="509.1" cy="289.1" r="1.4" fill="#000"/>
</svg>
</body></html>
